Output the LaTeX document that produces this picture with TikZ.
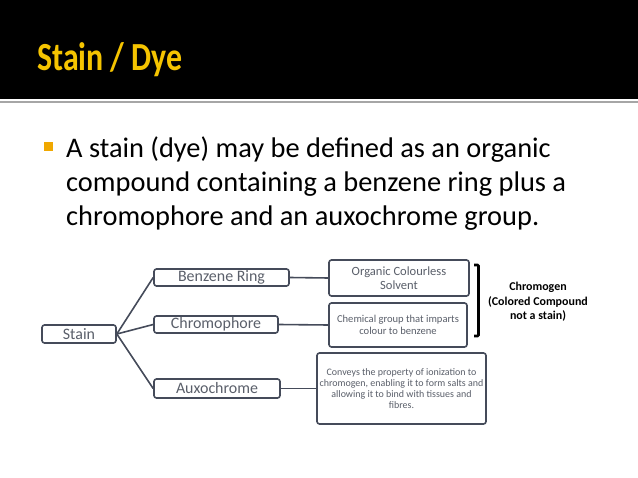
\documentclass[tikz,border=0pt]{standalone}
\usepackage{fontspec}
\setmainfont{Carlito}
\definecolor{titleyel}{HTML}{F5C400}
\definecolor{bulorange}{HTML}{F0A800}
\definecolor{boxline}{HTML}{454B5A}
\definecolor{boxtext}{HTML}{5A5F6A}
\begin{document}
\begin{tikzpicture}[x=1bp,y=-1bp,
  box/.style={draw=boxline,line width=1.6pt,rounded corners=2.5pt,fill=white,inner sep=0pt,
    text=boxtext,align=center},
  big/.style={font=\fontsize{16}{17}\selectfont},
  para/.style={anchor=base west,inner sep=0pt,font=\fontsize{28.5}{33}\selectfont},
  conn/.style={draw=boxline,line width=1.6pt}]
\useasboundingbox (0,0) rectangle (638,478);
\fill[white] (0,0) rectangle (638,478);
\fill[black] (0,0) rectangle (638,99.5);
\fill[gray!70] (0,101) rectangle (638,103.5);
\node[anchor=base west,text=titleyel,font=\bfseries\fontsize{40}{40}\selectfont,inner sep=0pt] (title) at (37,71) {\scalebox{0.8}[1]{Stain / Dye}};
\fill[bulorange] (44,142) rectangle (53,151) coordinate (bul);
\node[para] (l1) at (66,158) {A stain (dye) may be defined as an organic};
\node[para] (l2) at (66,192) {compound containing a benzene ring plus a};
\node[para] (l3) at (66,226) {chromophore and an auxochrome group.};
\node[box,big,minimum width=74bp,minimum height=18bp] (stain) at (79,334) {Stain};
\node[box,big,minimum width=135bp,minimum height=17bp] (benz) at (221.5,277.5) {Benzene Ring};
\node[box,big,minimum width=124bp,minimum height=17bp] (chromo) at (216,324.5) {Chromophore};
\node[box,big,minimum width=126bp,minimum height=19bp] (auxo) at (217,388.5) {Auxochrome};
\node[box,minimum width=140bp,minimum height=36bp,font=\fontsize{12.6}{14}\selectfont] (solv) at (399,278) {Organic Colourless\\Solvent};
\node[box,minimum width=138bp,minimum height=44bp,font=\fontsize{10.6}{12.5}\selectfont] (chem) at (398,325) {Chemical group that imparts\\colour to benzene};
\node[box,minimum width=169bp,minimum height=71bp,font=\fontsize{10}{11}\selectfont] (conv) at (401.5,388.5) {Conveys the property of ionization to\\chromogen, enabling it to form salts and\\allowing it to bind with tissues and\\fibres.};
\draw[conn] (stain.east) -- (benz.west);
\draw[conn] (stain.east) -- (chromo.west);
\draw[conn] (stain.east) -- (auxo.west);
\draw[conn] (benz.east) -- (solv.west);
\draw[conn] (chromo.east) -- (chem.west);
\draw[conn] (auxo.east) -- (conv.west);
\coordinate (bt) at (474,265);
\coordinate (bb) at (474,336);
\draw[black,line width=2.8pt,rounded corners=1pt] (bt) -- ++(4.5,0) |- (bb);
\node[font=\bfseries\fontsize{12}{14.5}\selectfont,align=center] (chromogen) at (538,302) {Chromogen\\(Colored Compound\\not a stain)};
\end{tikzpicture}
\end{document}
